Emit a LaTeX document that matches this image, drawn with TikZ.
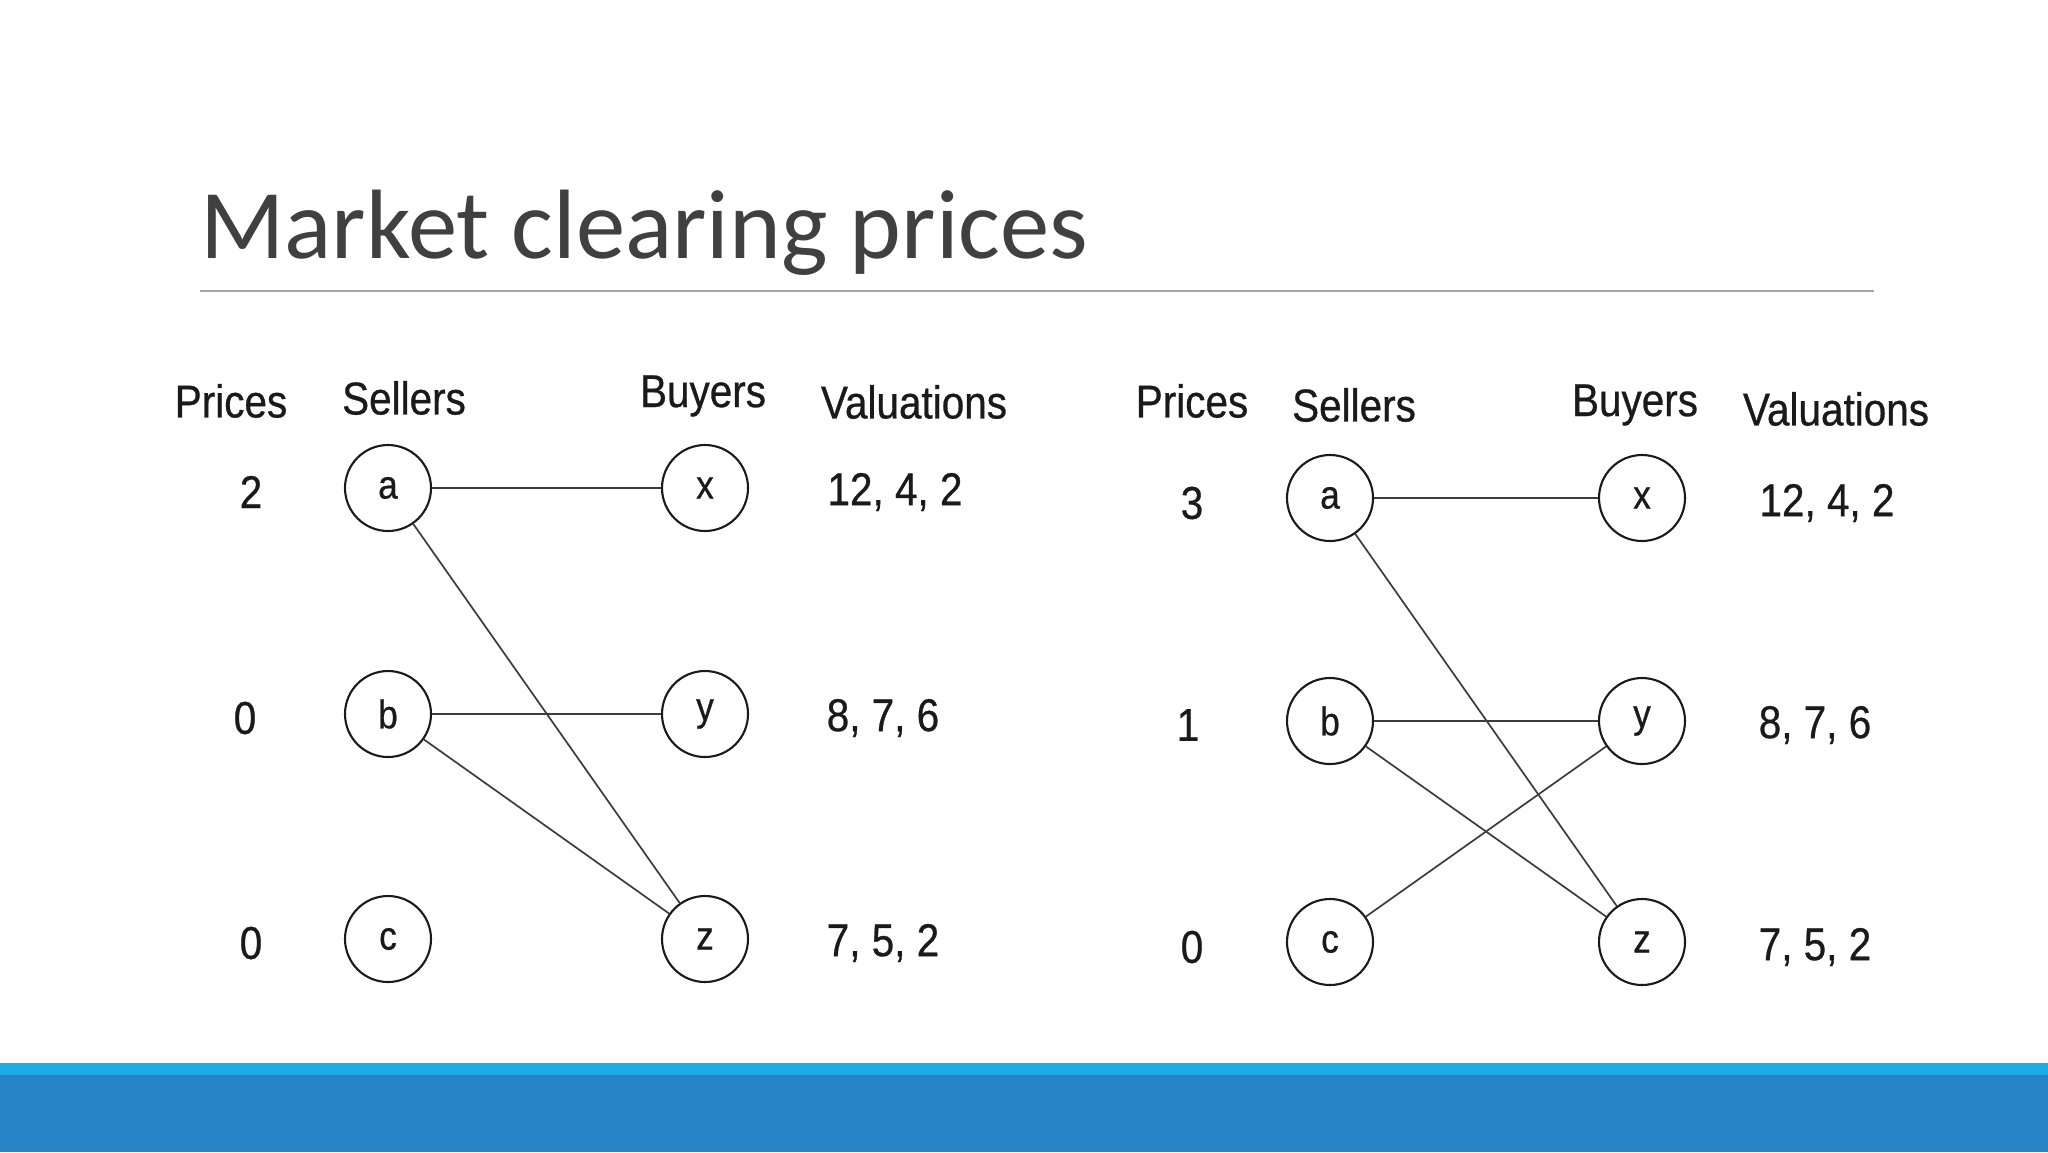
\documentclass[tikz,border=0pt]{standalone}
\usepackage{fontspec}
\setmainfont{Carlito}
\newfontfamily\diagfont[FakeStretch=0.88,FakeBold=0.6]{Liberation Sans}
\definecolor{titlegray}{HTML}{404040}
\definecolor{rulegray}{HTML}{A6A6A6}
\definecolor{lightband}{HTML}{1CADE4}
\definecolor{darkband}{HTML}{2683C6}
\definecolor{ink}{HTML}{1A1A1A}
\begin{document}
\begin{tikzpicture}[x=0.5pt,y=-0.5pt,
  vert/.style={circle,draw=ink,line width=1.05pt,minimum size=43pt,inner sep=0pt,
    font=\diagfont\fontsize{20}{22}\selectfont,text=ink},
  lbl/.style={font=\diagfont\fontsize{23}{26}\selectfont,text=ink,inner sep=0pt},
  edge/.style={draw=ink!85,line width=0.85pt}]
\useasboundingbox (0,0) rectangle (2048,1152);
\fill[white] (0,0) rectangle (2048,1152);
% title
\node[anchor=base west,inner sep=0pt,text=titlegray,font=\fontsize{49.3}{60}\selectfont] (title) at (200,258) {Market clearing prices};
\draw[rulegray,line width=0.8pt] (200,291) coordinate (r1) -- (1874,291) coordinate (r2);
% bands
\fill[lightband] (0,1063) rectangle (2048,1075);
\fill[darkband] (0,1075) rectangle (2048,1152);
% ---------- left diagram ----------
\node[lbl] (hp1) at (231,401) {Prices};
\node[lbl] (hs1) at (404,398) {Sellers};
\node[lbl] (hb1) at (703,396) {Buyers};
\node[lbl] (hv1) at (914,402) {Valuations};
\node[lbl] (p1a) at (251,492) {2};
\node[lbl] (p1b) at (245,718) {0};
\node[lbl] (p1c) at (251,943) {0};
\node[vert] (a1) at (388,488) {a};
\node[vert] (b1) at (388,714) {b};
\node[vert] (c1) at (388,939) {c};
\node[vert] (x1) at (705,488) {x};
\node[vert] (y1) at (705,714) {y};
\node[vert] (z1) at (705,939) {z};
\node[lbl] (v1x) at (895,492) {12, 4, 2};
\node[lbl] (v1y) at (883,718) {8, 7, 6};
\node[lbl] (v1z) at (883,943) {7, 5, 2};
\draw[edge] (a1) -- (x1);
\draw[edge] (a1) -- (z1);
\draw[edge] (b1) -- (y1);
\draw[edge] (b1) -- (z1);
% ---------- right diagram ----------
\node[lbl] (hp2) at (1192,401) {Prices};
\node[lbl] (hs2) at (1354,405) {Sellers};
\node[lbl] (hb2) at (1635,405) {Buyers};
\node[lbl] (hv2) at (1836,409) {Valuations};
\node[lbl] (p2a) at (1192,503) {3};
\node[lbl] (p2b) at (1188,725) {1};
\node[lbl] (p2c) at (1192,947) {0};
\node[vert] (a2) at (1330,498) {a};
\node[vert] (b2) at (1330,721) {b};
\node[vert] (c2) at (1330,942) {c};
\node[vert] (x2) at (1642,498) {x};
\node[vert] (y2) at (1642,721) {y};
\node[vert] (z2) at (1642,942) {z};
\node[lbl] (v2x) at (1827,503) {12, 4, 2};
\node[lbl] (v2y) at (1815,725) {8, 7, 6};
\node[lbl] (v2z) at (1815,947) {7, 5, 2};
\draw[edge] (a2) -- (x2);
\draw[edge] (a2) -- (z2);
\draw[edge] (b2) -- (y2);
\draw[edge] (b2) -- (z2);
\draw[edge] (c2) -- (y2);
\end{tikzpicture}
\end{document}
